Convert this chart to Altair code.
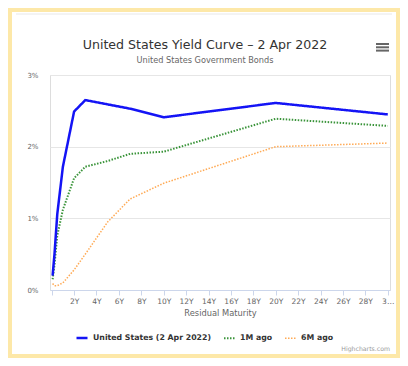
import altair as alt
import pandas as pd

# Residual maturity in years: 1M, 3M, 6M, 1Y, 2Y, 3Y, 5Y, 7Y, 10Y, 20Y, 30Y
maturity = [1/12, 0.25, 0.5, 1, 2, 3, 5, 7, 10, 20, 30]
us_now = [0.20, 0.50, 1.06, 1.72, 2.49, 2.65, 2.59, 2.53, 2.41, 2.61, 2.45]
one_month_ago = [0.15, 0.35, 0.76, 1.12, 1.56, 1.72, 1.80, 1.90, 1.93, 2.39, 2.29]
six_months_ago = [0.09, 0.06, 0.06, 0.10, 0.28, 0.50, 0.95, 1.27, 1.49, 2.00, 2.05]

series_names = ["United States (2 Apr 2022)", "1M ago", "6M ago"]
series_colors = ["#1414f5", "#3a943a", "#ffaa55"]
x_ticks = list(range(0, 31, 2))
y_ticks = [0, 1, 2, 3]

rows = []
for name, vals in [(series_names[2], six_months_ago),
                   (series_names[1], one_month_ago),
                   (series_names[0], us_now)]:
    for m, v in zip(maturity, vals):
        rows.append({"maturity": m, "yield": v, "series": name})
df = pd.DataFrame(rows)

FONT = "DejaVu Sans"

lines = alt.Chart(df).mark_line(strokeCap="butt").encode(
    x=alt.X("maturity:Q",
            scale=alt.Scale(domain=[-0.15, 30.2], nice=False, zero=False),
            axis=alt.Axis(values=x_ticks,
                          labelExpr="datum.value == 0 ? '' : (datum.value == 30 ? '3…' : datum.value + 'Y')",
                          title="Residual Maturity", grid=False,
                          domainColor="#ccd6eb", tickColor="#ccd6eb", tickSize=5,
                          labelColor="#666666", labelFontSize=7.5, labelFont=FONT,
                          labelPadding=2, labelFlush=False, labelOverlap=False,
                          titleColor="#666666", titleFontSize=8.3, titleFont=FONT,
                          titleFontWeight="normal", titlePadding=4)),
    y=alt.Y("yield:Q",
            scale=alt.Scale(domain=[0, 3], nice=False),
            axis=alt.Axis(values=y_ticks, labelExpr="datum.value + '%'",
                          title=None, domain=False, ticks=False,
                          gridColor="#e6e6e6", labelPadding=12,
                          labelColor="#666666", labelFontSize=7, labelFont=FONT)),
    color=alt.Color("series:N",
                    scale=alt.Scale(domain=series_names, range=series_colors),
                    legend=alt.Legend(orient="none", legendX=25, legendY=256,
                                      direction="horizontal", title=None,
                                      symbolType="stroke", symbolSize=121,
                                      labelFontSize=7.8, labelFontWeight="bold",
                                      labelColor="#333333", labelFont=FONT,
                                      columnPadding=9, labelOffset=4, padding=0)),
    strokeDash=alt.StrokeDash("series:N",
                              scale=alt.Scale(domain=series_names,
                                              range=[[1, 0], [1.5, 1.5], [1.5, 1.5]]),
                              legend=None),
    strokeWidth=alt.StrokeWidth("series:N",
                                scale=alt.Scale(domain=series_names, range=[2.5, 1.5, 1.5]),
                                legend=None),
)

decor = pd.DataFrame({"k": [0]})
base = alt.Chart(decor)

frame = base.mark_rect(fillOpacity=0, stroke="#fde8a8", strokeWidth=4).encode(
    x=alt.value(-40), x2=alt.value(348), y=alt.value(-65), y2=alt.value(281))
topline = base.mark_rule(color="#e8e8e8", strokeWidth=1).encode(
    x=alt.value(-34), x2=alt.value(342), y=alt.value(-61))
menu1 = base.mark_rule(color="#666666", strokeWidth=2).encode(
    x=alt.value(326), x2=alt.value(339), y=alt.value(-31))
menu2 = base.mark_rule(color="#666666", strokeWidth=2).encode(
    x=alt.value(326), x2=alt.value(339), y=alt.value(-27.7))
menu3 = base.mark_rule(color="#666666", strokeWidth=2).encode(
    x=alt.value(326), x2=alt.value(339), y=alt.value(-24.4))
credits = base.mark_text(align="right", baseline="middle", color="#999999",
                         fontSize=6.2, font=FONT).encode(
    x=alt.value(340), y=alt.value(274), text=alt.value("Highcharts.com"))

chart = alt.layer(frame, topline, menu1, menu2, menu3, credits, lines).properties(
    width=340, height=215,
    title=alt.TitleParams(text="United States Yield Curve – 2 Apr 2022",
                          subtitle="United States Government Bonds",
                          anchor="middle", dx=-15, offset=-56,
                          font=FONT, fontSize=12.6, fontWeight="normal", color="#333333",
                          subtitleFont=FONT, subtitleFontSize=8.2, subtitleColor="#666666",
                          subtitlePadding=5),
    autosize=alt.AutoSizeParams(type="none"),
    padding={"left": 42, "top": 67, "right": 10, "bottom": 68},
).configure_view(stroke=None).configure(background="white")

chart.save("out.html", embed_options={"renderer": "svg", "actions": False})
